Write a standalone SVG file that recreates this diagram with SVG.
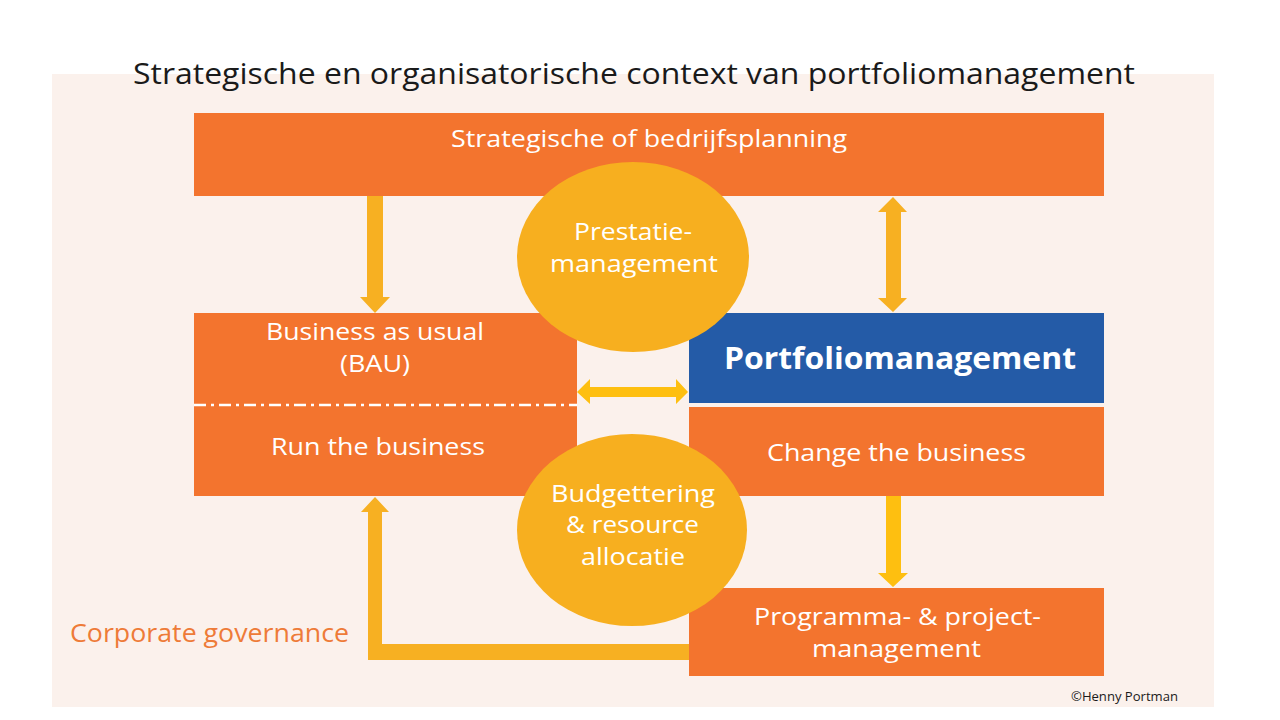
<svg xmlns="http://www.w3.org/2000/svg" width="1280" height="720" viewBox="0 0 1280 720">
<style>
.box{fill:#F3742E}
.blue{fill:#245BA7}
.ell{fill:#F7AF1F}
.arr{fill:#F7B022}
.arr2{fill:#FEBF10}
text{font-family:"Open Sans","Noto Sans","Liberation Sans",sans-serif}
.w{fill:#FFFFFF;font-size:24px;text-anchor:middle}
</style>
<rect x="0" y="0" width="1280" height="720" fill="#FFFFFF"/>
<rect id="background" x="52" y="74" width="1162" height="633" fill="#FBF1EC"/>
<text id="title" x="634" y="84" font-size="30" fill="#1A1A1A" text-anchor="middle" textLength="1002" lengthAdjust="spacingAndGlyphs">Strategische en organisatorische context van portfoliomanagement</text>

<g id="connectors">
<polygon class="arr" points="367,196 383,196 383,297 390,297 375,313 360,297 367,297"/>
<polygon class="arr" points="893,197 907,212 901,212 901,298 907,298 893,312 878,298 886,298 886,212 878,212"/>
<polygon class="arr2" points="577,392 590,379 590,387 676,387 676,379 688,392 676,404 676,397 590,397 590,404"/>
<polygon class="arr2" points="886,496 901,496 901,573 908,573 893,587 878,573 886,573"/>
<polygon class="arr" points="689,644 382,644 382,512 389,512 375,497 361,512 368,512 368,660 689,660"/>
</g>

<g id="strategic-planning">
<rect class="box" x="194" y="113" width="910" height="83"/>
<text class="w" x="649" y="147" textLength="396" lengthAdjust="spacingAndGlyphs">Strategische of bedrijfsplanning</text>
</g>

<g id="bau">
<rect class="box" x="194" y="313" width="383" height="183"/>
<line x1="194" y1="405" x2="577" y2="405" stroke="#FFFFFF" stroke-width="2.5" stroke-dasharray="12 5 3 5"/>
<text class="w" x="375" y="340" textLength="218" lengthAdjust="spacingAndGlyphs">Business as usual</text>
<text class="w" x="375" y="372" textLength="70" lengthAdjust="spacingAndGlyphs">(BAU)</text>
<text class="w" x="378" y="455" textLength="214" lengthAdjust="spacingAndGlyphs">Run the business</text>
</g>

<g id="portfolio">
<rect class="blue" x="689" y="313" width="415" height="90"/>
<text x="900" y="369" font-size="30" font-weight="bold" fill="#FFFFFF" text-anchor="middle" textLength="352" lengthAdjust="spacingAndGlyphs">Portfoliomanagement</text>
</g>

<g id="change">
<rect class="box" x="689" y="407" width="415" height="89"/>
<text class="w" x="896.5" y="461" textLength="259" lengthAdjust="spacingAndGlyphs">Change the business</text>
</g>

<g id="programme">
<rect class="box" x="689" y="588" width="415" height="88"/>
<text class="w" x="897.5" y="625" textLength="287" lengthAdjust="spacingAndGlyphs">Programma- &amp; project-</text>
<text class="w" x="896.5" y="657" textLength="169" lengthAdjust="spacingAndGlyphs">management</text>
</g>

<g id="performance">
<ellipse class="ell" cx="633" cy="257" rx="116" ry="95"/>
<text class="w" x="633" y="240" textLength="118" lengthAdjust="spacingAndGlyphs">Prestatie-</text>
<text class="w" x="634" y="272" textLength="168" lengthAdjust="spacingAndGlyphs">management</text>
</g>

<g id="budget">
<ellipse class="ell" cx="632" cy="530" rx="115" ry="96"/>
<text class="w" x="633" y="502" textLength="164" lengthAdjust="spacingAndGlyphs">Budgettering</text>
<text class="w" x="632.5" y="533" textLength="133" lengthAdjust="spacingAndGlyphs">&amp; resource</text>
<text class="w" x="633" y="565" textLength="104" lengthAdjust="spacingAndGlyphs">allocatie</text>
</g>

<text id="governance" x="70" y="642" font-size="25" fill="#EE7B38" textLength="279" lengthAdjust="spacingAndGlyphs">Corporate governance</text>
<text id="copyright" x="1071" y="701" font-size="13" fill="#1A1A1A" textLength="107" lengthAdjust="spacingAndGlyphs">©Henny Portman</text>
</svg>
